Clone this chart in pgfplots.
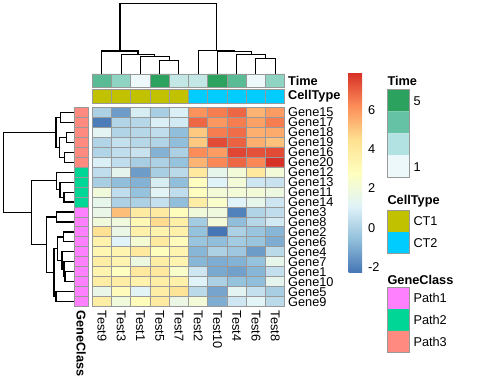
\documentclass[border=0pt]{standalone}
\usepackage{pgfplots}
\pgfplotsset{compat=1.18}
\usepackage{pgfplotstable}
\usepackage{fontspec}
\setmainfont{Liberation Sans}
\newcommand\lab{\fontsize{12.8}{14}\selectfont}
\definecolor{gridc}{RGB}{153,153,153}
\definecolor{tA}{RGB}{237,248,250}
\definecolor{tB}{RGB}{194,231,229}
\definecolor{tC}{RGB}{143,211,195}
\definecolor{tD}{RGB}{90,187,148}
\definecolor{tE}{RGB}{44,162,95}
\definecolor{lA}{RGB}{237,248,251}
\definecolor{lB}{RGB}{178,226,226}
\definecolor{lC}{RGB}{102,194,164}
\definecolor{lD}{RGB}{44,162,95}
\definecolor{ctA}{RGB}{193,193,0}
\definecolor{ctB}{RGB}{0,204,255}
\definecolor{pA}{RGB}{255,128,255}
\definecolor{pB}{RGB}{0,214,150}
\definecolor{pC}{RGB}{255,138,128}

% heatmap values: c = displayed column (Test9,Test3,Test1,Test5,Test7,Test2,Test10,Test4,Test6,Test8)
% r = displayed row (Gene15,17,18,19,16,20,12,13,11,14,3,8,2,6,4,7,1,10,5,9)
\pgfplotstableread[row sep=\\]{
c r v\\
0 0 0.0\\ 1 0 -1.4\\ 2 0 0.9\\ 3 0 -0.1\\ 4 0 1.0\\ 5 0 6.1\\ 6 0 6.5\\ 7 0 6.9\\ 8 0 5.4\\ 9 0 5.9\\
0 1 -2.1\\ 1 1 0.1\\ 2 1 0.2\\ 3 1 1.0\\ 4 1 0.8\\ 5 1 6.9\\ 6 1 6.0\\ 7 1 6.5\\ 8 1 5.8\\ 9 1 6.5\\
0 2 1.3\\ 1 2 0.1\\ 2 2 0.2\\ 3 2 0.4\\ 4 2 -0.6\\ 5 2 5.0\\ 6 2 6.5\\ 7 2 6.8\\ 8 2 5.5\\ 9 2 5.6\\
0 3 0.1\\ 1 3 0.5\\ 2 3 0.2\\ 3 3 0.1\\ 4 3 -0.6\\ 5 3 5.0\\ 6 3 7.4\\ 7 3 7.0\\ 8 3 5.5\\ 9 3 5.1\\
0 4 0.1\\ 1 4 0.4\\ 2 4 0.6\\ 3 4 -0.9\\ 4 4 0.0\\ 5 4 6.2\\ 6 4 5.9\\ 7 4 7.5\\ 8 4 7.3\\ 9 4 7.4\\
0 5 1.0\\ 1 5 0.4\\ 2 5 -0.1\\ 3 5 0.0\\ 4 5 -0.5\\ 5 5 5.4\\ 6 5 6.3\\ 7 5 6.9\\ 8 5 6.3\\ 9 5 7.9\\
0 6 0.4\\ 1 6 1.4\\ 2 6 -1.4\\ 3 6 -0.1\\ 4 6 0.3\\ 5 6 4.0\\ 6 6 1.5\\ 7 6 2.1\\ 8 6 4.0\\ 9 6 2.1\\
0 7 -0.1\\ 1 7 -0.6\\ 2 7 -0.9\\ 3 7 0.9\\ 4 7 -0.6\\ 5 7 2.8\\ 6 7 1.1\\ 7 7 2.1\\ 8 7 0.7\\ 9 7 0.6\\
0 8 2.0\\ 1 8 0.4\\ 2 8 -0.5\\ 3 8 1.2\\ 4 8 0.4\\ 5 8 2.8\\ 6 8 2.1\\ 7 8 2.1\\ 8 8 2.1\\ 9 8 1.8\\
0 9 1.5\\ 1 9 0.0\\ 2 9 0.0\\ 3 9 0.5\\ 4 9 -0.6\\ 5 9 3.8\\ 6 9 2.5\\ 7 9 1.1\\ 8 9 1.5\\ 9 9 0.7\\
0 10 1.6\\ 1 10 5.2\\ 2 10 3.9\\ 3 10 3.9\\ 4 10 2.9\\ 5 10 2.0\\ 6 10 1.9\\ 7 10 -2.0\\ 8 10 0.1\\ 9 10 0.4\\
0 11 2.0\\ 1 11 1.9\\ 2 11 3.2\\ 3 11 4.6\\ 4 11 3.7\\ 5 11 -0.2\\ 6 11 2.1\\ 7 11 -0.6\\ 8 11 0.2\\ 9 11 0.8\\
0 12 4.4\\ 1 12 1.7\\ 2 12 3.6\\ 3 12 3.5\\ 4 12 3.6\\ 5 12 -0.5\\ 6 12 -2.3\\ 7 12 0.0\\ 8 12 -0.4\\ 9 12 -0.8\\
0 13 3.5\\ 1 13 1.1\\ 2 13 2.2\\ 3 13 4.0\\ 4 13 3.0\\ 5 13 -0.4\\ 6 13 -0.6\\ 7 13 -0.2\\ 8 13 -0.4\\ 9 13 -1.0\\
0 14 3.3\\ 1 14 3.4\\ 2 14 4.0\\ 3 14 2.9\\ 4 14 3.4\\ 5 14 -0.8\\ 6 14 0.0\\ 7 14 -0.3\\ 8 14 -1.4\\ 9 14 0.3\\
0 15 3.8\\ 1 15 3.4\\ 2 15 1.8\\ 3 15 3.8\\ 4 15 3.4\\ 5 15 -0.8\\ 6 15 -1.0\\ 7 15 -0.9\\ 8 15 -0.5\\ 9 15 1.5\\
0 16 3.4\\ 1 16 2.8\\ 2 16 4.0\\ 3 16 4.0\\ 4 16 2.5\\ 5 16 0.7\\ 6 16 -1.1\\ 7 16 -1.3\\ 8 16 -0.8\\ 9 16 0.5\\
0 17 3.8\\ 1 17 3.8\\ 2 17 3.5\\ 3 17 3.8\\ 4 17 3.6\\ 5 17 1.1\\ 6 17 0.0\\ 7 17 -0.5\\ 8 17 -0.6\\ 9 17 1.4\\
0 18 1.6\\ 1 18 3.0\\ 2 18 1.2\\ 3 18 3.8\\ 4 18 4.3\\ 5 18 0.3\\ 6 18 -1.2\\ 7 18 1.3\\ 8 18 0.5\\ 9 18 -0.1\\
0 19 3.8\\ 1 19 2.0\\ 2 19 3.0\\ 3 19 3.9\\ 4 19 1.7\\ 5 19 2.1\\ 6 19 -1.0\\ 7 19 0.7\\ 8 19 1.2\\ 9 19 0.3\\
}\heat

% rectangle through the axis
\newcommand\rect[5][]{\addplot[#1] coordinates {(#2,#3) (#4,#3) (#4,#5) (#2,#5) (#2,#3)};}
% column dendrogram merge
\newcommand\dc[5]{\addplot[dend] coordinates {(#1,#2) (#1,#3) (#4,#3) (#4,#5)};}
% row dendrogram merge
\newcommand\dr[5]{\addplot[dend] coordinates {(#1,#2) (#3,#2) (#3,#5) (#4,#5)};}

\begin{document}
\begin{tikzpicture}
\begin{axis}[
  width=480bp, height=384bp, scale only axis,
  xmin=0, xmax=480, ymin=0, ymax=384, y dir=reverse,
  hide axis, clip=false,
  colormap={rdylbu}{rgb255=(69,117,180) rgb255=(145,191,219) rgb255=(224,243,248) rgb255=(255,255,191) rgb255=(254,224,144) rgb255=(252,141,89) rgb255=(215,48,39)},
  point meta min=-2.29, point meta max=7.9,
  colorbar,
  colorbar style={
    at={(parent axis.north west)}, anchor=north west,
    xshift=340.2bp, yshift=-72.7bp,
    width=13.3bp, height=200bp, scale only axis,
    axis line style={draw=none}, major tick length=0pt,
    ytick={-2,0,2,4,6}, yticklabels={-2,0,2,4,6},
    yticklabel style={font=\lab, inner sep=0pt, xshift=6bp},
  },
  dend/.style={black, line width=1.1bp, line join=miter},
]
% heatmap
\addplot[matrix plot*, mesh/cols=10, point meta=explicit]
  table[x expr=101.925+19.25*\thisrow{c}, y expr=112.285+9.97*\thisrow{r}, meta=v] {\heat};
\pgfplotsinvokeforeach{0,...,20}{
  \draw[gridc, line width=0.9bp] (axis cs:92.3,{107.3+9.97*#1}) -- (axis cs:284.8,{107.3+9.97*#1});
}
\pgfplotsinvokeforeach{0,...,10}{
  \draw[gridc, line width=0.9bp] (axis cs:{92.3+19.25*#1},107.3) -- (axis cs:{92.3+19.25*#1},306.7);
}

% Time annotation
\rect[fill=tD, draw=gridc, line width=0.9bp]{92.3}{74}{111.55}{87.7}
\rect[fill=tC, draw=gridc, line width=0.9bp]{111.55}{74}{130.8}{87.7}
\rect[fill=tA, draw=gridc, line width=0.9bp]{130.8}{74}{150.05}{87.7}
\rect[fill=tE, draw=gridc, line width=0.9bp]{150.05}{74}{169.3}{87.7}
\rect[fill=tB, draw=gridc, line width=0.9bp]{169.3}{74}{188.55}{87.7}
\rect[fill=tB, draw=gridc, line width=0.9bp]{188.55}{74}{207.8}{87.7}
\rect[fill=tE, draw=gridc, line width=0.9bp]{207.8}{74}{227.05}{87.7}
\rect[fill=tD, draw=gridc, line width=0.9bp]{227.05}{74}{246.3}{87.7}
\rect[fill=tA, draw=gridc, line width=0.9bp]{246.3}{74}{265.55}{87.7}
\rect[fill=tC, draw=gridc, line width=0.9bp]{265.55}{74}{284.8}{87.7}
% CellType annotation
\rect[fill=ctA, draw=gridc, line width=0.9bp]{92.3}{89.7}{111.55}{103.3}
\rect[fill=ctA, draw=gridc, line width=0.9bp]{111.55}{89.7}{130.8}{103.3}
\rect[fill=ctA, draw=gridc, line width=0.9bp]{130.8}{89.7}{150.05}{103.3}
\rect[fill=ctA, draw=gridc, line width=0.9bp]{150.05}{89.7}{169.3}{103.3}
\rect[fill=ctA, draw=gridc, line width=0.9bp]{169.3}{89.7}{188.55}{103.3}
\rect[fill=ctB, draw=gridc, line width=0.9bp]{188.55}{89.7}{207.8}{103.3}
\rect[fill=ctB, draw=gridc, line width=0.9bp]{207.8}{89.7}{227.05}{103.3}
\rect[fill=ctB, draw=gridc, line width=0.9bp]{227.05}{89.7}{246.3}{103.3}
\rect[fill=ctB, draw=gridc, line width=0.9bp]{246.3}{89.7}{265.55}{103.3}
\rect[fill=ctB, draw=gridc, line width=0.9bp]{265.55}{89.7}{284.8}{103.3}
% GeneClass annotation
\rect[fill=pC, draw=gridc, line width=0.9bp]{74.3}{107.3}{88.3}{117.27}
\rect[fill=pC, draw=gridc, line width=0.9bp]{74.3}{117.27}{88.3}{127.24}
\rect[fill=pC, draw=gridc, line width=0.9bp]{74.3}{127.24}{88.3}{137.21}
\rect[fill=pC, draw=gridc, line width=0.9bp]{74.3}{137.21}{88.3}{147.18}
\rect[fill=pC, draw=gridc, line width=0.9bp]{74.3}{147.18}{88.3}{157.15}
\rect[fill=pC, draw=gridc, line width=0.9bp]{74.3}{157.15}{88.3}{167.12}
\rect[fill=pB, draw=gridc, line width=0.9bp]{74.3}{167.12}{88.3}{177.09}
\rect[fill=pB, draw=gridc, line width=0.9bp]{74.3}{177.09}{88.3}{187.06}
\rect[fill=pB, draw=gridc, line width=0.9bp]{74.3}{187.06}{88.3}{197.03}
\rect[fill=pB, draw=gridc, line width=0.9bp]{74.3}{197.03}{88.3}{207.0}
\rect[fill=pA, draw=gridc, line width=0.9bp]{74.3}{207.0}{88.3}{216.97}
\rect[fill=pA, draw=gridc, line width=0.9bp]{74.3}{216.97}{88.3}{226.94}
\rect[fill=pA, draw=gridc, line width=0.9bp]{74.3}{226.94}{88.3}{236.91}
\rect[fill=pA, draw=gridc, line width=0.9bp]{74.3}{236.91}{88.3}{246.88}
\rect[fill=pA, draw=gridc, line width=0.9bp]{74.3}{246.88}{88.3}{256.85}
\rect[fill=pA, draw=gridc, line width=0.9bp]{74.3}{256.85}{88.3}{266.82}
\rect[fill=pA, draw=gridc, line width=0.9bp]{74.3}{266.82}{88.3}{276.79}
\rect[fill=pA, draw=gridc, line width=0.9bp]{74.3}{276.79}{88.3}{286.76}
\rect[fill=pA, draw=gridc, line width=0.9bp]{74.3}{286.76}{88.3}{296.73}
\rect[fill=pA, draw=gridc, line width=0.9bp]{74.3}{296.73}{88.3}{306.7}

% column dendrogram
\dc{159.7}{74}{60.7}{178.9}{74}
\dc{140.4}{74}{56.7}{169.3}{60.7}
\dc{121.2}{74}{54.3}{154.85}{56.7}
\dc{101.9}{74}{51}{138.0}{54.3}
\dc{255.9}{74}{58.3}{275.2}{74}
\dc{236.7}{74}{54.3}{265.55}{58.3}
\dc{217.4}{74}{51.7}{251.1}{54.3}
\dc{198.2}{74}{50.7}{234.25}{51.7}
\dc{119.95}{51}{3.3}{216.2}{50.7}

% row dendrogram
\dr{74}{112.3}{60.5}{74}{122.3}
\dr{74}{132.2}{66.7}{74}{142.2}
\dr{74}{152.2}{64.3}{74}{162.2}
\dr{66.7}{137.2}{59.3}{64.3}{157.2}
\dr{60.5}{117.3}{56}{59.3}{147.2}
\dr{74}{192.1}{64}{74}{202.0}
\dr{74}{182.1}{60}{64}{197.05}
\dr{74}{172.1}{56.3}{60}{189.6}
\dr{74}{212}{56.7}{74}{222}
\dr{74}{232}{63.3}{74}{241.9}
\dr{74}{271.8}{65}{74}{281.8}
\dr{74}{261.9}{64}{65}{276.8}
\dr{74}{251.9}{62}{64}{269.35}
\dr{63.3}{236.95}{57.3}{62}{260.6}
\dr{74}{291.8}{56}{74}{301.7}
\dr{57.3}{248.8}{54}{56}{296.75}
\dr{56.7}{217}{46.3}{54}{272.8}
\dr{56.3}{180.85}{31.3}{46.3}{244.9}
\dr{56}{132.25}{3.3}{31.3}{212.9}

% row labels
\begin{scope}[every node/.style={font=\lab, anchor=west, inner sep=0pt}]
\node at (axis cs:288,112.3) {Gene15};
\node at (axis cs:288,122.3) {Gene17};
\node at (axis cs:288,132.2) {Gene18};
\node at (axis cs:288,142.2) {Gene19};
\node at (axis cs:288,152.2) {Gene16};
\node at (axis cs:288,162.2) {Gene20};
\node at (axis cs:288,172.1) {Gene12};
\node at (axis cs:288,182.1) {Gene13};
\node at (axis cs:288,192.1) {Gene11};
\node at (axis cs:288,202.0) {Gene14};
\node at (axis cs:288,212.0) {Gene3};
\node at (axis cs:288,222.0) {Gene8};
\node at (axis cs:288,232.0) {Gene2};
\node at (axis cs:288,241.9) {Gene6};
\node at (axis cs:288,251.9) {Gene4};
\node at (axis cs:288,261.9) {Gene7};
\node at (axis cs:288,271.8) {Gene1};
\node at (axis cs:288,281.8) {Gene10};
\node at (axis cs:288,291.8) {Gene5};
\node at (axis cs:288,301.7) {Gene9};
\node[font=\lab\bfseries] at (axis cs:288,80.8) {Time};
\node[font=\lab\bfseries] at (axis cs:288,96.5) {CellType};
% column labels
\node[rotate=-90] at (axis cs:101.9,310.5) {Test9};
\node[rotate=-90] at (axis cs:121.2,310.5) {Test3};
\node[rotate=-90] at (axis cs:140.4,310.5) {Test1};
\node[rotate=-90] at (axis cs:159.7,310.5) {Test5};
\node[rotate=-90] at (axis cs:178.9,310.5) {Test7};
\node[rotate=-90] at (axis cs:198.2,310.5) {Test2};
\node[rotate=-90] at (axis cs:217.4,310.5) {Test10};
\node[rotate=-90] at (axis cs:236.7,310.5) {Test4};
\node[rotate=-90] at (axis cs:255.9,310.5) {Test6};
\node[rotate=-90] at (axis cs:275.2,310.5) {Test8};
\node[rotate=-90, font=\lab\bfseries] at (axis cs:81.3,310.5) {GeneClass};
% legends
\node[font=\lab\bfseries] at (axis cs:387.3,80.7) {Time};
\node at (axis cs:413.3,101.5) {5};
\node at (axis cs:413.3,167) {1};
\node[font=\lab\bfseries] at (axis cs:387.3,201.7) {CellType};
\node at (axis cs:413.3,221.2) {CT1};
\node at (axis cs:413.3,242.9) {CT2};
\node[font=\lab\bfseries] at (axis cs:387.3,280) {GeneClass};
\node at (axis cs:413.3,298.2) {Path1};
\node at (axis cs:413.3,320) {Path2};
\node at (axis cs:413.3,341.8) {Path3};
\end{scope}

% Time legend
\rect[fill=lD, draw=none]{387.3}{89.3}{409.3}{111.3}
\rect[fill=lC, draw=none]{387.3}{111.3}{409.3}{133.3}
\rect[fill=lB, draw=none]{387.3}{133.3}{409.3}{155.3}
\rect[fill=lA, draw=none]{387.3}{155.3}{409.3}{177.3}
\rect[draw=gridc, line width=0.9bp]{387.3}{89.3}{409.3}{177.3}
% CellType legend
\rect[fill=ctA, draw=none]{387.3}{210.3}{409.3}{232}
\rect[fill=ctB, draw=none]{387.3}{232}{409.3}{253.7}
\rect[draw=gridc, line width=0.9bp]{387.3}{210.3}{409.3}{253.7}
% GeneClass legend
\rect[fill=pA, draw=none]{387.3}{287.3}{409.3}{309}
\rect[fill=pB, draw=none]{387.3}{309}{409.3}{330.8}
\rect[fill=pC, draw=none]{387.3}{330.8}{409.3}{352.6}
\rect[draw=gridc, line width=0.9bp]{387.3}{287.3}{409.3}{352.6}
\end{axis}
\pgfresetboundingbox
\path (0,0) rectangle (480bp,384bp);
\end{tikzpicture}
\end{document}
